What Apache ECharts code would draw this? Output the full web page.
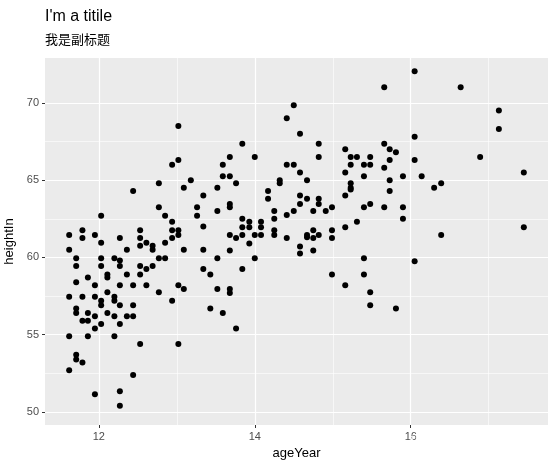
<!DOCTYPE html>
<html>
<head>
<meta charset="utf-8">
<script src="https://cdn.jsdelivr.net/npm/echarts@6/dist/echarts.min.js"></script>
<style>html,body{margin:0;padding:0;background:#fff}#main{width:555px;height:468px}</style>
</head>
<body>
<div id="main"></div>
<script>
// ageYear, heightIn pairs
var ageYear = [12.77,13.18,12.44,13.09,13.34,12.77,13.26,12.03,12.85,13.26,12.94,13.34,11.62,11.79,11.79,11.95,12.03,12.27,12.53,12.53,12.61,12.53,12.69,12.69,12.85,12.94,13.02,13.02,12.94,11.62,12.36,13.09,13.34,11.71,12.03,12.20,12.27,12.27,12.77,12.85,11.71,12.03,12.53,12.61,12.69,13.34,13.43,11.86,12.11,12.11,12.36,12.53,11.71,11.95,12.27,12.44,12.61,13.02,13.09,12.77,12.11,11.62,11.79,11.95,12.03,12.03,12.20,12.20,12.27,12.44,12.94,11.71,11.71,11.86,12.11,11.95,12.20,12.36,12.44,13.43,11.79,11.86,12.03,11.95,12.27,11.62,11.86,12.20,12.53,13.02,11.71,11.71,11.79,11.62,12.44,11.95,12.27,12.27,
  14.50,14.41,13.02,14.58,13.84,13.02,12.94,13.68,14.00,13.59,14.41,14.50,13.59,13.68,13.76,14.32,14.32,13.52,14.17,14.17,13.68,13.68,13.52,14.25,14.41,14.50,13.84,14.25,13.93,14.08,13.84,13.93,14.08,14.25,14.25,13.68,13.76,13.84,14.00,14.08,14.41,13.93,13.68,13.52,14.00,13.84,13.52,13.68,13.68,13.59,13.76,
  16.05,15.66,16.64,17.13,17.13,16.05,14.82,15.66,15.16,15.73,15.81,14.82,15.23,15.31,15.48,15.73,16.05,16.89,15.23,15.40,15.48,15.66,14.58,15.16,17.45,15.40,15.90,16.14,14.67,15.73,15.23,15.23,15.23,16.39,16.30,15.73,14.58,15.16,14.67,14.82,14.58,14.82,14.99,15.40,15.48,15.66,15.90,14.75,14.91,15.90,15.31,15.16,17.45,14.75,14.99,14.67,14.67,14.75,14.82,14.99,16.39,14.58,14.58,14.75,15.40,16.05,14.99,15.40,15.16,15.48,15.48,15.81];
var heightIn = [64.8,65.0,64.3,64.5,64.0,63.25,63.25,62.7,62.7,62.7,62.3,62.0,61.45,61.75,61.25,61.45,60.95,61.25,61.75,61.25,60.95,60.75,60.75,60.5,60.95,61.75,61.75,61.45,61.25,60.5,60.5,60.5,60.5,59.95,59.95,59.95,59.8,59.45,59.95,59.95,59.45,59.45,59.45,59.25,59.45,59.25,58.9,58.7,58.9,58.7,58.9,58.9,58.4,58.2,58.2,58.2,58.2,58.2,57.95,57.75,57.75,57.45,57.45,57.45,57.2,56.9,57.45,57.2,56.9,56.9,57.2,56.7,56.4,56.4,56.4,56.2,56.2,56.2,56.2,56.7,55.9,55.9,55.7,55.4,55.7,54.9,54.9,54.9,54.4,54.4,53.7,53.4,53.2,52.7,52.4,51.15,51.35,50.4,
  69.85,69.0,68.5,68.0,67.35,66.3,66.0,66.5,66.5,66.0,66.0,66.0,65.25,65.25,64.8,65.0,64.8,64.5,64.3,63.8,63.45,63.25,63.0,63.0,62.75,63.0,62.5,62.5,62.3,62.3,61.95,61.95,61.95,61.75,61.45,61.45,61.25,61.45,61.45,61.45,61.25,60.9,60.45,59.95,59.95,59.25,57.95,57.95,57.7,56.4,55.4,
  72.05,71.0,71.0,69.5,68.3,67.8,67.35,67.35,67.0,67.0,66.8,66.5,66.5,66.5,66.5,66.3,66.3,66.5,66.0,66.0,66.0,65.8,65.5,65.5,65.5,65.25,65.25,65.25,65.0,65.0,64.8,64.5,64.4,64.8,64.5,64.3,64.0,64.0,63.8,63.8,63.45,63.45,63.25,63.25,63.45,63.25,63.25,63.0,63.0,62.5,62.3,61.95,61.95,61.75,61.75,61.45,61.3,61.25,61.45,61.25,61.45,60.7,60.25,60.45,59.95,59.75,58.9,58.9,58.2,57.75,56.9,56.7];
var xMajor = [12, 14, 16];
var xMinor = [11, 13, 15, 17];
var yMajor = [50, 55, 60, 65, 70];
var yMinor = [52.5, 57.5, 62.5, 67.5];

var points = [];
for (var i = 0; i < ageYear.length; i++) {
    points.push([ageYear[i], heightIn[i]]);
}

function gridLines(vals, dim, width) {
    return vals.map(function(v) {
        var o = {lineStyle: {width: width}};
        o[dim] = v;
        return o;
    });
}

var chart = echarts.init(document.getElementById("main"));
chart.setOption({
    animation: false,
    title: {
        text: "I'm a titile",
        subtext: "我是副标题",
        left: 40, top: 4,
        itemGap: 8,
        textStyle: {fontFamily: "Liberation Sans", fontSize: 16, fontWeight: "normal", color: "#000"},
        subtextStyle: {fontFamily: "Noto Sans CJK SC", fontSize: 13, color: "#000"}
    },
    graphic: [{
        type: "text", right: 14, bottom: 20, z: 100,
        style: {text: "知乎 @syf写字的地方", fontFamily: "Noto Sans CJK SC", fontSize: 14, fill: "rgba(255,255,255,0.85)"}
    }],
    grid: {left: 45, right: 7, top: 58, bottom: 43, show: true, backgroundColor: "#EBEBEB", borderWidth: 0,
        containLabel: false, outerBoundsMode: "none"},
    xAxis: {
        type: "value", min: 11.31, max: 17.76,
        name: "ageYear", nameLocation: "middle", nameGap: 20,
        nameTextStyle: {fontFamily: "Liberation Sans", fontSize: 13, color: "#000"},
        axisLine: {show: false},
        axisTick: {show: true, customValues: xMajor, length: 3, lineStyle: {color: "#333"}},
        axisLabel: {customValues: xMajor, color: "#4D4D4D", fontSize: 11, margin: 6},
        splitLine: {show: false}
    },
    yAxis: {
        type: "value", min: 49.16, max: 72.9,
        name: "heightIn", nameLocation: "middle", nameGap: 23,
        nameTextStyle: {fontFamily: "Liberation Sans", fontSize: 13, color: "#000"},
        axisLine: {show: false},
        axisTick: {show: true, customValues: yMajor, length: 3, lineStyle: {color: "#333"}},
        axisLabel: {customValues: yMajor, color: "#4D4D4D", fontSize: 11, margin: 6},
        splitLine: {show: false}
    },
    series: [{
        // white panel grid lines, kept under the points
        type: "line",
        data: [],
        z: 1,
        markLine: {
            silent: true, symbol: "none", label: {show: false}, animation: false,
            lineStyle: {color: "#fff", type: "solid"},
            data: gridLines(xMinor, "xAxis", 0.6).concat(gridLines(yMinor, "yAxis", 0.6),
                gridLines(xMajor, "xAxis", 1.2), gridLines(yMajor, "yAxis", 1.2))
        }
    }, {
        type: "scatter",
        data: points,
        symbolSize: 6,
        itemStyle: {color: "#000", opacity: 1},
        z: 5
    }]
});
</script>
</body>
</html>
